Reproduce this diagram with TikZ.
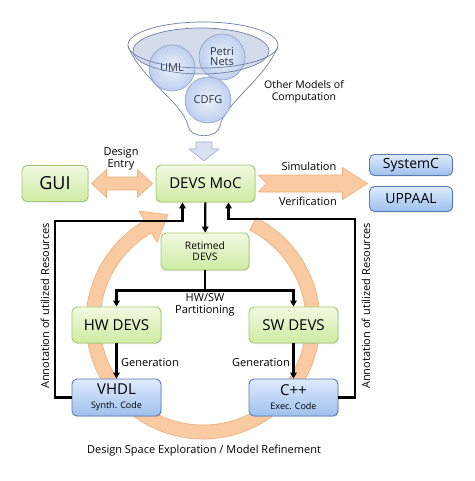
\documentclass[tikz,border=0pt]{standalone}
\usepackage{fontspec}
\setmainfont{Open Sans}
\usetikzlibrary{arrows.meta,calc,shadows}

\definecolor{greentop}{RGB}{242,249,226}
\definecolor{greenbot}{RGB}{206,235,162}
\definecolor{greenline}{RGB}{160,200,112}
\definecolor{bluetop}{RGB}{222,235,252}
\definecolor{bluebot}{RGB}{158,192,238}
\definecolor{blueline}{RGB}{90,120,178}
\definecolor{orfill}{RGB}{250,202,162}
\definecolor{orline}{RGB}{238,172,118}
\definecolor{balltop}{RGB}{238,243,252}
\definecolor{ballbot}{RGB}{190,207,238}
\definecolor{ballline}{RGB}{138,158,198}
\definecolor{ballgrey}{RGB}{45,52,68}
\definecolor{funnelline}{RGB}{108,128,164}
\definecolor{rimfill}{RGB}{212,220,236}
\definecolor{downfill}{RGB}{218,225,242}
\definecolor{downline}{RGB}{160,174,204}

\begin{document}
\begin{tikzpicture}[x=1pt,y=-1pt,
    box/.style={draw, rounded corners=5pt, line width=0.9pt, align=center, inner sep=1pt,
      drop shadow={opacity=0.18,shadow xshift=1pt,shadow yshift=-1pt}},
    greenbox/.style={box, draw=greenline, top color=greentop, bottom color=greenbot},
    bluebox/.style={box, draw=blueline, top color=bluetop, bottom color=bluebot},
    ball/.style={circle, draw=ballline, line width=0.6pt, inner color=balltop, outer color=ballbot,
      minimum size=46pt, align=center, inner sep=0pt, text=ballgrey, font=\fontsize{11}{12}\selectfont},
    flow/.style={line width=2.2pt, -{Triangle[length=6pt,width=6.5pt]}},
    bigarrow/.style={draw=orline, fill=orfill, line width=0.6pt, line join=round},
    lbl/.style={font=\fontsize{11}{12.5}\selectfont, align=center, inner sep=0pt},
    small/.style={font=\fontsize{9.4}{10}\selectfont}
  ]
  \useasboundingbox (0,0) rectangle (474,481);

  % design space exploration ring
  \coordinate (ring) at (203,322);
  \draw[bigarrow] ($(ring)+(-63:117)$) arc[start angle=-63, end angle=240, radius=117]
    -- ($(ring)+(240:128)$) -- ($(ring)+(252:113)$) -- ($(ring)+(240:92)$)
    -- ($(ring)+(240:103)$) arc[start angle=240, end angle=-63, radius=103] -- cycle;

  % funnel with the models of computation
  \draw[funnelline, line width=0.7pt] (128,46) .. controls (140,78) and (184,104) .. (188,126)
    .. controls (190,139) and (218,139) .. (220,126) .. controls (224,104) and (266,78) .. (278,46);
  \fill[rimfill] (201,51) ellipse [x radius=68, y radius=23];
  \node[ball] (uml) at (172,68) {UML};
  \node[ball] (petri) at (222,57) {Petri\\[-2pt]Nets};
  \node[ball] (cdfg) at (208,100) {CDFG};
  \draw[funnelline, line width=0.7pt] (203,45) ellipse [x radius=75, y radius=23];
  \draw[funnelline, line width=0.7pt] (201,51) ellipse [x radius=68, y radius=23];
  \node[lbl, font=\fontsize{10.5}{12}\selectfont] (other) at (304,92) {Other Models of\\Computation};
  \coordinate (neck) at (204,142);
  \draw[draw=downline, fill=downfill, line width=0.6pt] ([xshift=-8pt]neck) -- ++(16,0) -- ++(0,7)
    -- ++(7,0) -- ++(-15,12) -- ++(-15,-12) -- ++(7,0) -- cycle;

  % boxes
  \node[greenbox, minimum width=66pt, minimum height=36pt, font=\fontsize{18}{20}\selectfont] (gui) at (55,183.5) {GUI};
  \node[greenbox, minimum width=99pt, minimum height=37pt, font=\fontsize{15}{17}\selectfont] (moc) at (205.5,183.5) {DEVS MoC};
  \node[greenbox, minimum width=88pt, minimum height=37pt, font=\fontsize{10.3}{11}\selectfont] (ret) at (205,251.5) {Retimed\\DEVS};
  \node[greenbox, minimum width=89pt, minimum height=36pt, font=\fontsize{15}{17}\selectfont] (hw) at (116.5,325) {HW DEVS};
  \node[greenbox, minimum width=89pt, minimum height=36pt, font=\fontsize{15}{17}\selectfont] (sw) at (293.5,325) {SW DEVS};
  \node[bluebox, minimum width=89pt, minimum height=37pt, font=\fontsize{15}{15}\selectfont] (vhdl) at (116.5,397.5) {VHDL\\[-1pt]{\small Synth. Code}};
  \node[bluebox, minimum width=89pt, minimum height=37pt, font=\fontsize{15}{15}\selectfont] (cpp) at (293.5,397.5) {C++\\[-1pt]{\small Exec. Code}};
  \node[bluebox, minimum width=83pt, minimum height=21pt, font=\fontsize{14}{15}\selectfont] (sysc) at (411,165) {SystemC};
  \node[bluebox, minimum width=83pt, minimum height=25pt, font=\fontsize{14}{15}\selectfont] (uppaal) at (411,199) {UPPAAL};

  % block arrows
  \draw[bigarrow] ([xshift=3pt]gui.east) -- ++(15,-14) -- ++(0,7.5) -- ++(31,0) -- ++(0,-7.5)
    -- ++(15,14) -- ++(-15,14) -- ++(0,-7.5) -- ++(-31,0) -- ++(0,7.5) -- cycle;
  \draw[bigarrow] ([xshift=11pt]moc.east) -- ++(-8,-8.5) -- ++(84,0) -- ++(0,-7.5) -- ++(25,16)
    -- ++(-25,16) -- ++(0,-7.5) -- ++(-84,0) -- cycle;

  % flow
  \draw[flow] (moc) -- (ret);
  \draw[flow] (ret.south) -- ++(0,20) -| (hw);
  \draw[flow] (ret.south) -- ++(0,20) -| (sw);
  \draw[flow] (hw) -- (vhdl);
  \draw[flow] (sw) -- (cpp);
  \coordinate (backl) at (55,221);
  \coordinate (backr) at (355,219);
  \draw[flow] (vhdl.west) -| (backl) -| ([xshift=-23pt]moc.south);
  \draw[flow] (cpp.east) -| (backr) -| ([xshift=23pt]moc.south);

  % labels
  \node[lbl] (entry) at (121,159) {Design\\Entry};
  \node[lbl] (sim) at (309,166) {Simulation};
  \node[lbl] (veri) at (308,201) {Verification};
  \node[lbl] (part) at (205,305) {HW/SW\\Partitioning};
  \node[lbl] (genhw) at (150,363) {Generation};
  \node[lbl] (gensw) at (261,363) {Generation};
  \node[lbl, rotate=90] (annl) at (45,306) {Annotation of utilized Resources};
  \node[lbl, rotate=90] (annr) at (366,306) {Annotation of utilized Resources};
  \node[lbl] (dse) at (204,451) {Design Space Exploration / Model Refinement};
\end{tikzpicture}
\end{document}
